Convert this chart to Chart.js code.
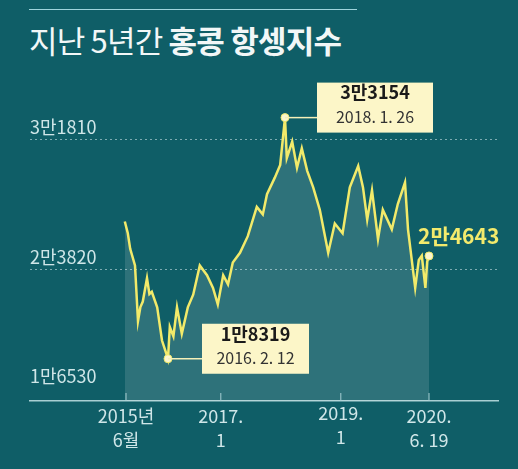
<!DOCTYPE html>
<html>
<head>
<meta charset="utf-8">
<script src="https://cdn.jsdelivr.net/npm/chart.js@4"></script>
<style>
  body { margin: 0; background: #0f5e67; }
  #wrap { position: relative; width: 518px; height: 469px; background: #0f5e67; overflow: hidden; }
  #rule { position: absolute; left: 29px; top: 9px; width: 328px; height: 1px; background: #9fd4dc; }
  #title { position: absolute; left: 29px; top: 17px; font-family: "Noto Sans CJK KR"; font-size: 31px; color: #f2f7f7; letter-spacing: -0.8px; }
  #title b { font-weight: 700; }
  canvas { position: absolute; left: 0; top: 0; }
</style>
</head>
<body>
<div id="wrap">
  <div id="rule"></div>
  <div id="title">지난 5년간 <b>홍콩 항셍지수</b></div>
  <canvas id="hsi" width="518" height="469"></canvas>
</div>
<script>
(function () {
    "use strict";

    // fractional years
    const dates = [2015.40, 2015.45, 2015.49, 2015.57, 2015.62, 2015.66, 2015.70, 2015.77, 2015.81, 2015.85,
        2015.94, 2016.02, 2016.12, 2016.15, 2016.21, 2016.27, 2016.35, 2016.45, 2016.54, 2016.65,
        2016.77, 2016.87, 2016.95, 2017.04, 2017.12, 2017.20, 2017.32, 2017.45, 2017.60, 2017.70,
        2017.77, 2017.90, 2017.99, 2018.07, 2018.10, 2018.19, 2018.27, 2018.35, 2018.44, 2018.54,
        2018.65, 2018.79, 2018.90, 2019.03, 2019.15, 2019.29, 2019.37, 2019.44, 2019.52, 2019.62,
        2019.70, 2019.85, 2019.95, 2020.07, 2020.12, 2020.24, 2020.30, 2020.35, 2020.41, 2020.44, 2020.47];
    const index = [26760, 26040, 25080, 24060, 20640, 21500, 21840, 23280, 22300, 22440,
        21480, 19440, 18319, 20280, 19700, 21480, 19860, 21480, 22260, 24060,
        23460, 22680, 21660, 23460, 22900, 24240, 24840, 25860, 27660, 27200,
        28440, 29460, 30240, 33154, 30660, 31680, 30060, 31260, 29880, 28860,
        27480, 24840, 26640, 26040, 28860, 30180, 28860, 26880, 28680, 25680,
        27480, 26280, 27840, 29160, 26280, 22680, 24400, 24660, 22680, 24300, 24643];
    const yTicks = [16530, 23820, 31810];
    const yLabels = ['1만6530', '2만3820', '3만1810'];
    const xTicks = [2015.42, 2017.0, 2019.0, 2020.47];
    const xLabels = [['2015년', '6월'], ['2017.', '1'], ['2019.', '1'], ['2020.', '6. 19']];
    const notes = [
        { i: 33, big: '3만3154', small: '2018. 1. 26', dx: 32, bw: 116 },
        { i: 12, big: '1만8319', small: '2016. 2. 12', dx: 34, bw: 107 }
    ];
    const lastLabel = '2만4643';

    const font = '"Noto Sans CJK KR", "Noto Sans", sans-serif';
    const lastIdx = index.length - 1;

    const deco = {
        id: 'deco',
        afterDraw(chart) {
            const c = chart.ctx, xs = chart.scales.x, ys = chart.scales.y, a = chart.chartArea;
            c.save();
            // y labels sit above their lines
            c.font = '18px ' + font;
            c.fillStyle = '#cfe6e8';
            c.textBaseline = 'bottom';
            yTicks.forEach((v, k) => c.fillText(yLabels[k], a.left, ys.getPixelForValue(v) - 3));
            // x axis tick marks and labels
            c.strokeStyle = '#a9cfd3';
            c.lineWidth = 1;
            c.textAlign = 'center';
            c.textBaseline = 'top';
            c.font = '18px ' + font;
            xTicks.forEach((v, k) => {
                const x = xs.getPixelForValue(v);
                c.beginPath(); c.moveTo(x, a.bottom); c.lineTo(x, a.bottom - 8); c.stroke();
                const off = k === 2 ? -3 : 0;
                c.fillText(xLabels[k][0], x, a.bottom + 6 + off);
                c.fillText(xLabels[k][1], x, a.bottom + 30 + off);
            });
            // callouts
            notes.forEach(n => {
                const px = xs.getPixelForValue(dates[n.i]), py = ys.getPixelForValue(index[n.i]);
                const bx = px + n.dx, by = py - 35;
                c.strokeStyle = '#f5f0b8';
                c.lineWidth = 1.5;
                c.beginPath(); c.moveTo(px, py); c.lineTo(bx, py); c.stroke();
                c.fillStyle = '#fcf6c8';
                c.fillRect(bx, by, n.bw, 50);
                c.fillStyle = '#1a1a1a';
                c.font = 'bold 18px ' + font;
                c.fillText(n.big, bx + n.bw / 2, by + 1);
                c.fillStyle = '#333';
                c.font = '16px ' + font;
                c.fillText(n.small, bx + n.bw / 2, by + 26);
            });
            // last value
            const lx = xs.getPixelForValue(dates[lastIdx]), ly = ys.getPixelForValue(index[lastIdx]);
            c.fillStyle = '#f3ea6c';
            c.font = 'bold 21px ' + font;
            c.textAlign = 'left';
            c.textBaseline = 'bottom';
            c.fillText(lastLabel, lx - 11, ly - 9);
            c.restore();
        }
    };

    new Chart(document.getElementById('hsi'), {
        type: 'line',
        data: {
            datasets: [{
                data: dates.map((d, k) => ({ x: d, y: index[k] })),
                borderColor: '#f2ea6a',
                borderWidth: 2.5,
                backgroundColor: 'rgba(255,255,255,0.13)',
                fill: 'start',
                tension: 0,
                pointRadius: ctx => (ctx.dataIndex === 12 || ctx.dataIndex === 33 || ctx.dataIndex === lastIdx) ? 4 : 0,
                pointBackgroundColor: '#fbf6cf',
                pointBorderColor: '#f2ea6a',
                pointBorderWidth: 1
            }]
        },
        options: {
            responsive: false,
            animation: false,
            layout: { padding: { left: 30, right: 20, top: 85, bottom: 60 } },
            plugins: { legend: { display: false }, tooltip: { enabled: false } },
            scales: {
                x: {
                    type: 'linear', min: 2013.82, max: 2021.62,
                    ticks: { display: false },
                    grid: { display: false },
                    border: { display: true, color: '#a9cfd3', width: 1.5 }
                },
                y: {
                    min: 15720, max: 35160,
                    afterBuildTicks: s => { s.ticks = [{ value: 23820 }, { value: 31810 }]; },
                    ticks: { display: false },
                    grid: { color: 'rgba(200,225,228,0.6)', drawTicks: false },
                    border: { display: false, dash: [2, 3] }
                }
            }
        },
        plugins: [deco]
    });
}());
</script>
</body>
</html>
